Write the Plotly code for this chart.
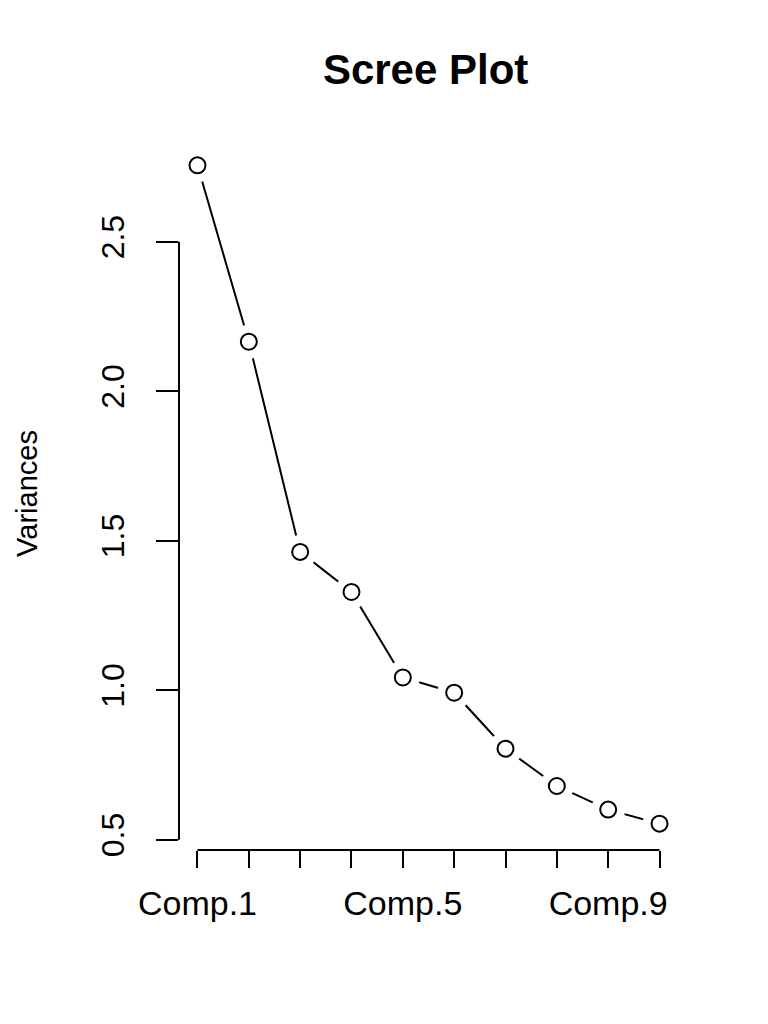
import plotly.graph_objects as go

# Data
components = ["Comp.1", "Comp.2", "Comp.3", "Comp.4", "Comp.5",
              "Comp.6", "Comp.7", "Comp.8", "Comp.9", "Comp.10"]
variances = [2.756, 2.166, 1.463, 1.329, 1.043, 0.992, 0.805, 0.680, 0.601, 0.554]
x_index = list(range(1, len(components) + 1))
x_ticktext = ["Comp.1", "", "", "", "Comp.5", "", "", "", "Comp.9", ""]
y_tickvals = [0.5, 1.0, 1.5, 2.0, 2.5]
y_ticktext = ["0.5", "1.0", "1.5", "2.0", "2.5"]

FONT = "Liberation Sans, Arial, Helvetica, sans-serif"

# R-style axis extension (4%)
xpad = (max(x_index) - min(x_index)) * 0.04
ypad = (max(variances) - min(variances)) * 0.04
xr = [min(x_index) - xpad, max(x_index) + xpad]
yr = [min(variances) - ypad, max(variances) + ypad]

fig = go.Figure()
# connecting line
fig.add_trace(go.Scatter(x=x_index, y=variances, mode="lines",
                         line=dict(color="black", width=2), hoverinfo="skip"))
# white masks to create type="b" gaps
fig.add_trace(go.Scatter(x=x_index, y=variances, mode="markers",
                         marker=dict(symbol="circle", size=34, color="white",
                                     line=dict(width=0)), hoverinfo="skip"))
# open circles
fig.add_trace(go.Scatter(x=x_index, y=variances, mode="markers",
                         marker=dict(symbol="circle-open", size=16, color="black",
                                     line=dict(width=2))))

# Axis lines spanning first to last tick (R style)
fig.add_shape(type="line", xref="x", yref="paper",
              x0=x_index[0], x1=x_index[-1], y0=0, y1=0,
              line=dict(color="black", width=2))
fig.add_shape(type="line", xref="paper", yref="y",
              x0=0, x1=0, y0=y_tickvals[0], y1=y_tickvals[-1],
              line=dict(color="black", width=2))

fig.update_layout(
    width=760, height=1016,
    margin=dict(l=171, r=90, t=131, b=174),
    paper_bgcolor="white", plot_bgcolor="white",
    showlegend=False,
    title=dict(text="<b>Scree Plot</b>", x=0.5495, xanchor="center",
               y=0.9395, yanchor="middle",
               font=dict(family=FONT, size=42, color="black")),
    xaxis=dict(range=xr, tickvals=x_index, ticktext=x_ticktext,
               showgrid=False, zeroline=False, showline=False,
               ticks="outside", ticklen=17, tickwidth=2, tickcolor="black",
               ticklabelstandoff=6,
               tickfont=dict(family=FONT, size=34, color="black")),
    yaxis=dict(range=yr, tickvals=y_tickvals, ticktext=y_ticktext,
               showgrid=False, zeroline=False, showline=False,
               ticks="outside", ticklen=22, tickwidth=2, tickcolor="black",
               tickangle=-90, ticklabelstandoff=19,
               tickfont=dict(family=FONT, size=32, color="black")),
    annotations=[dict(text="Variances", textangle=-90, xref="paper", yref="paper",
                      x=-0.305, y=0.502, xanchor="center", yanchor="middle",
                      showarrow=False,
                      font=dict(family=FONT, size=29, color="black"))],
)

fig.write_html("out.html")
